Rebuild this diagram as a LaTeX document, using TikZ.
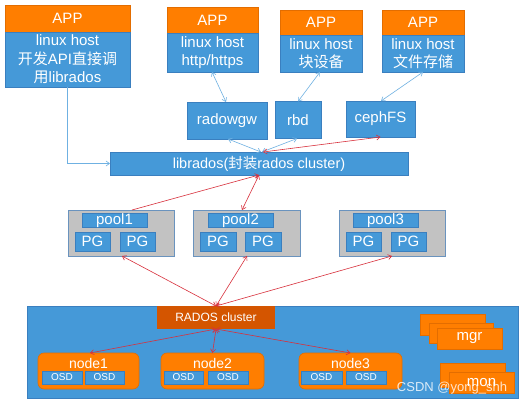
\documentclass[tikz,border=0pt]{standalone}
\usepackage{fontspec}
\setmainfont{Liberation Sans}
\newfontfamily\cjk{Noto Sans CJK SC}
\usetikzlibrary{arrows.meta}
\definecolor{kblue}{HTML}{4599D8}
\definecolor{kblueedge}{HTML}{3A7FBF}
\definecolor{korange}{HTML}{FF7E00}
\definecolor{korangeedge}{HTML}{E36D00}
\definecolor{kdark}{HTML}{D45500}
\definecolor{kgray}{HTML}{C2C2C2}
\definecolor{kgrayedge}{HTML}{6A93BE}
\definecolor{lnblue}{HTML}{6FB1E2}
\definecolor{lnred}{HTML}{D8303C}
\tikzset{
  wh/.style 2 args={minimum width=#1pt,minimum height=#2pt},
  base/.style={inner sep=0pt,outer sep=0pt,align=center,text=white,line width=0.6pt},
  bluebox/.style={base,draw=kblueedge,fill=kblue},
  apphead/.style={base,draw=korangeedge,fill=korange,font=\fontsize{15}{18}\selectfont},
  appbody/.style={bluebox,font=\fontsize{15}{18.5}\selectfont},
  poolbox/.style={base,draw=kgrayedge,fill=kgray},
  pgbox/.style={bluebox,font=\fontsize{15}{18}\selectfont},
  osdbox/.style={bluebox,font=\fontsize{10}{12}\selectfont},
  nodebox/.style={base,draw=korangeedge,fill=korange,rounded corners=6pt},
  mgrbox/.style={base,draw=korangeedge,fill=korange,font=\fontsize{15}{18}\selectfont},
  txt/.style={inner sep=0pt,text=white},
  bline/.style={draw=lnblue,line width=0.6pt},
  rline/.style={draw=lnred,line width=0.6pt},
  tip/.style={arrows={#1}},
}
\begin{document}
\begin{tikzpicture}[x=1pt,y=-1pt,>={Straight Barb[length=3.5pt,width=5pt]}]
\useasboundingbox[fill=white] (0,0) rectangle (522,406);
% APP boxes
\node[apphead,wh={125}{27}] (app1h) at (67.5,18.5) {APP};
\node[appbody,wh={125}{55}] (app1) at (67.5,59.5) {linux host\\{\cjk 开发}API{\cjk 直接调}\\{\cjk 用}librados};
\node[apphead,wh={91}{26}] (app2h) at (212.5,20) {APP};
\node[appbody,wh={91}{39}] (app2) at (212.5,52.5) {linux host\\http/https};
\node[apphead,wh={82}{25}] (app3h) at (321,22.5) {APP};
\node[appbody,wh={82}{37}] (app3) at (321,53.5) {linux host\\{\cjk 块设备}};
\node[apphead,wh={82}{25}] (app4h) at (423,22.5) {APP};
\node[appbody,wh={82}{37}] (app4) at (423,53.5) {linux host\\{\cjk 文件存储}};
% interfaces
\node[appbody,wh={80}{37}] (rgw) at (227,120.5) {radowgw};
\node[appbody,wh={46}{37}] (rbd) at (298,120) {rbd};
\node[appbody,wh={69}{36}] (cephfs) at (380.5,119) {cephFS};
\node[bluebox,wh={298}{23},font=\fontsize{14.5}{17}\selectfont] (librados) at (259,163.5) {librados({\cjk 封装}rados cluster)};
% pools
\node[poolbox,wh={106}{46}] (pool1) at (121,233) {};
\node[pgbox,wh={65}{13}] (pool1l) at (114.5,220.5) {pool1};
\node[pgbox,wh={35}{19}] (pg11) at (92.5,241.5) {PG};
\node[pgbox,wh={35}{19}] (pg12) at (137.5,241.5) {PG};
\node[poolbox,wh={107}{46}] (pool2) at (247,233) {};
\node[pgbox,wh={65}{13}] (pool2l) at (240.5,220.5) {pool2};
\node[pgbox,wh={36}{19}] (pg21) at (218,241.5) {PG};
\node[pgbox,wh={36}{19}] (pg22) at (263,241.5) {PG};
\node[poolbox,wh={106}{46}] (pool3) at (392,233) {};
\node[pgbox,wh={65}{13}] (pool3l) at (385.5,220.5) {pool3};
\node[pgbox,wh={35}{19}] (pg31) at (363.5,241.5) {PG};
\node[pgbox,wh={35}{19}] (pg32) at (408.5,241.5) {PG};
% cluster
\node[bluebox,wh={491}{92}] (cluster) at (272.5,352) {};
\node[base,fill=kdark,wh={118}{23},font=\fontsize{12}{14}\selectfont] (rados) at (216,317.5) {RADOS cluster};
% nodes
\node[nodebox,wh={101}{36}] (node1) at (88.5,371) {};
\node[txt,font=\fontsize{14}{16}\selectfont] (node1t) at (88.5,363.5) {node1};
\node[osdbox,wh={40}{13}] (osd11) at (62,377.5) {OSD};
\node[osdbox,wh={39}{13}] (osd12) at (104.5,377.5) {OSD};
\node[nodebox,wh={103}{36}] (node2) at (212.5,371) {};
\node[txt,font=\fontsize{14}{16}\selectfont] (node2t) at (212.5,363.5) {node2};
\node[osdbox,wh={39}{13}] (osd21) at (183.5,377.5) {OSD};
\node[osdbox,wh={40}{13}] (osd22) at (228,377.5) {OSD};
\node[nodebox,wh={103}{36}] (node3) at (350.5,371) {};
\node[txt,font=\fontsize{14}{16}\selectfont] (node3t) at (350.5,363.5) {node3};
\node[osdbox,wh={41}{13}] (osd31) at (321.5,377.5) {OSD};
\node[osdbox,wh={40}{13}] (osd32) at (366,377.5) {OSD};
% mgr / mon
\node[mgrbox,wh={65}{21}] (mgra) at (452.5,324.5) {};
\node[mgrbox,wh={64}{20}] (mgrb) at (461,333) {};
\node[mgrbox,wh={65}{21}] (mgr) at (469.5,338.5) {mgr};
\node[mgrbox,wh={65}{24}] (mona) at (472.5,375) {};
\node[mgrbox,wh={65}{21}] (mon) at (481.5,382.5) {mon};
% blue connectors
\draw[bline,->] (app1.south) |- (librados.west);
\draw[bline,<->] ([xshift=-0.5pt]app2.south) -- ([xshift=-1pt]rgw.north);
\draw[bline,<->] ([xshift=-1pt]app3.south) -- (rbd.north);
\draw[bline,<->] (app4.south) -- ([xshift=0.5pt]cephfs.north);
\draw[bline,<->] ([xshift=1pt]rgw.south) -- ([xshift=2pt]librados.north);
\draw[bline,<->] ([xshift=-1pt]rbd.south) -- ([xshift=3pt]librados.north);
% red connectors
\draw[rline,<->] ([xshift=4pt]librados.north) -- (cephfs.south);
\draw[rline,->] ([xshift=11pt]pool1.north) -- (librados.south);
\draw[rline,<->] ([xshift=-5pt]pool2.north) -- (librados.south);
\draw[rline,<->] (rados.north) -- ([xshift=1pt]pool1.south);
\draw[rline,<->] (rados.north) -- (pool2.south);
\draw[rline,<->] (rados.north) -- (pool3.south);
\draw[rline,<->] (rados.south) -- ([xshift=1.5pt]node1.north);
\draw[rline,<->] (rados.south) -- (node2.north);
\draw[rline,<->] (rados.south) -- (node3.north);
% watermark
\node[inner sep=0pt,text=white,opacity=0.8,font=\fontsize{13}{15}\selectfont] (csdn) at (452,388.5) {CSDN @yong\_shh};
\end{tikzpicture}
\end{document}
